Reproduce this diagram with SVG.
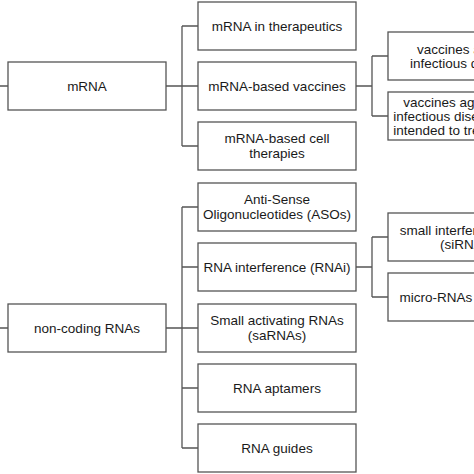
<svg xmlns="http://www.w3.org/2000/svg" width="474" height="474" viewBox="0 0 474 474">
<style>
.box{fill:#fff;stroke:#555;stroke-width:1.3}
.con{fill:none;stroke:#555;stroke-width:1.3}
text{font-family:"Liberation Sans",Arial,sans-serif;font-size:13.5px;fill:#1a1a1a;text-anchor:middle}
.st{text-anchor:start}
</style>
<rect width="474" height="474" fill="#fff"/>
<g id="connectors">
<path class="con" d="M0 86H8M166 86H182M182 26V146M182 26H198M182 86H198M182 146H198"/>
<path class="con" d="M356 86H372M372 56V116M372 56H388M372 116H388"/>
<path class="con" d="M0 328H8M166 328H182M182 207V448M182 207H198M182 267H198M182 328H198M182 388H198M182 448H198"/>
<path class="con" d="M356 267H372M372 237V297M372 237H388M372 297H388"/>
</g>
<g id="mrna"><rect class="box" x="8" y="62" width="158" height="48"/><text x="87" y="91">mRNA</text></g>
<g id="ncrna"><rect class="box" x="8" y="304" width="158" height="48"/><text x="87" y="333">non-coding RNAs</text></g>
<g id="therapeutics"><rect class="box" x="198" y="2" width="158" height="48"/><text x="277" y="31">mRNA in therapeutics</text></g>
<g id="vaccines"><rect class="box" x="198" y="62" width="158" height="48"/><text x="277" y="91">mRNA-based vaccines</text></g>
<g id="celltherapies"><rect class="box" x="198" y="122" width="158" height="48"/><text x="277" y="143.3">mRNA-based cell</text><text x="277" y="158.3">therapies</text></g>
<g id="vacc-inf"><rect class="box" x="388" y="32" width="158" height="48"/><text x="467" y="54.3">vaccines against</text><text x="467" y="68.3">infectious diseases</text></g>
<g id="vacc-noninf"><rect class="box" x="388" y="92" width="158" height="48"/><text class="st" x="403.3" y="107">vaccines against non-</text><text class="st" x="393.3" y="121.3">infectious diseases</text><text class="st" x="393.3" y="134.8">intended to treat cancer</text></g>
<g id="aso"><rect class="box" x="198" y="183" width="158" height="48"/><text x="277" y="204.3">Anti-Sense</text><text x="277" y="219.3">Oligonucleotides (ASOs)</text></g>
<g id="rnai"><rect class="box" x="198" y="243" width="158" height="48"/><text x="277" y="272">RNA interference (RNAi)</text></g>
<g id="sarna"><rect class="box" x="198" y="304" width="158" height="48"/><text x="277" y="325">Small activating RNAs</text><text x="277" y="340">(saRNAs)</text></g>
<g id="aptamers"><rect class="box" x="198" y="364" width="158" height="48"/><text x="277" y="393">RNA aptamers</text></g>
<g id="guides"><rect class="box" x="198" y="424" width="158" height="48"/><text x="277" y="453">RNA guides</text></g>
<g id="sirna"><rect class="box" x="388" y="213" width="158" height="48"/><text x="467" y="235">small interfering RNAs</text><text x="467" y="249">(siRNAs)</text></g>
<g id="mirna"><rect class="box" x="388" y="273" width="158" height="48"/><text x="467" y="302">micro-RNAs (miRNAs)</text></g>
</svg>
